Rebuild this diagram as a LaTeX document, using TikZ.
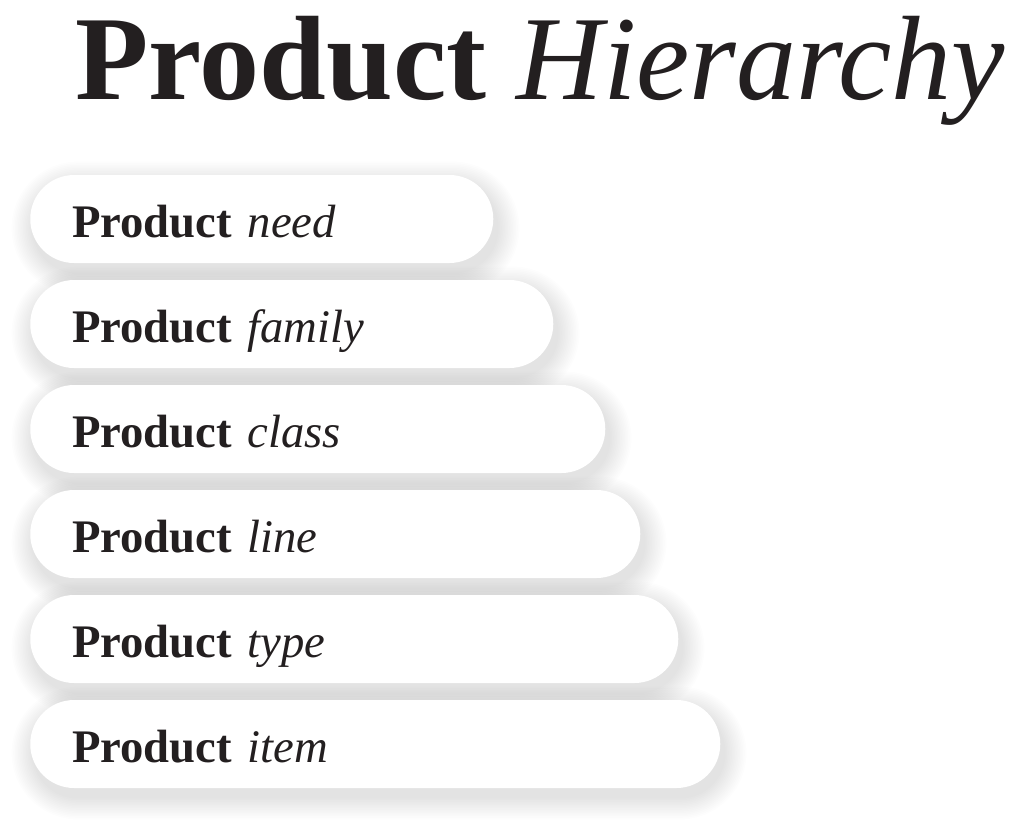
\documentclass[tikz,border=0pt]{standalone}
\usepackage{fontspec}
\setmainfont{Liberation Serif}
\definecolor{ink}{HTML}{231F20}
\tikzset{
  pill/.style={fill=white, rounded corners=32.9pt, minimum height=66pt,
    anchor=west, inner xsep=31.5pt, align=left, text height=30pt,
    text depth=3pt, font=\fontsize{35}{40}\selectfont, text=ink},
  haze/.style={fill=black, fill opacity=0.0075}
}
\begin{document}
\begin{tikzpicture}[x=0.75pt, y=-0.75pt]
  \useasboundingbox[fill=white] (0,0) rectangle (1020,836);

  \node[font=\fontsize{90}{98}\selectfont, text=ink, inner sep=0pt,
    anchor=base west] (title) at (75,99) {\textbf{Product} \textit{Hierarchy}};

  % one pill per level, each wider than the one above
  \foreach \word/\r [count=\i] in {need/493, family/553, class/605,
      line/640, type/678, item/720} {
      \pgfmathsetmacro{\cy}{114+105*\i}
      \pgfmathsetmacro{\tw}{(\r-30)*0.75-63}
      % soft shadow, a stack of faint pills
      \foreach \k in {1,...,14} {
          \pgfmathsetmacro{\e}{1.6*\k}
          \pgfmathsetmacro{\rr}{(44+\e)*0.75-0.1}
          \fill[haze, rounded corners=\rr pt]
            (30-\e+4, \cy-44-\e+9) rectangle (\r+\e+4, \cy+44+\e+9);
      }
      \node[pill, text width=\tw pt] (\word) at (30, \cy)
        {\textbf{Product} \textit{\word}};
  }
\end{tikzpicture}
\end{document}
